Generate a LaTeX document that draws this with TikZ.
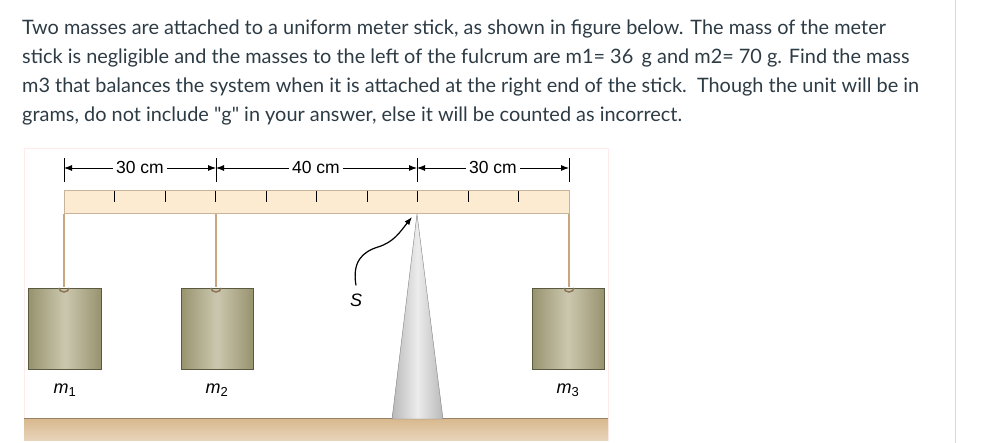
\documentclass[tikz,border=0pt]{standalone}
\usepackage{fontspec}
\setmainfont{Lato}
\newfontfamily\arial{Liberation Sans}
\usetikzlibrary{arrows.meta}
\definecolor{txt}{HTML}{2D3B45}
\definecolor{stick}{HTML}{FCEBD0}
\definecolor{stickd}{HTML}{C8B498}
\definecolor{massc}{HTML}{A9A37A}
\definecolor{massd}{HTML}{5A5A40}
\definecolor{rope}{HTML}{C9A77C}
\definecolor{ground}{HTML}{D9B98F}
\tikzset{
 qline/.style={anchor=base west, inner sep=0pt, text=txt, font=\fontsize{19.9bp}{22bp}\selectfont},
 massbox/.style={draw=massd, line width=1bp, left color=massc!90!black, right color=massc!90!black, middle color=massc!60!white, minimum width=72bp, minimum height=81bp, inner sep=0pt},
 dimlab/.style={fill=white, inner sep=3bp, font=\arial\fontsize{17.5bp}{19bp}\selectfont},
 mlab/.style={font=\arial\itshape\fontsize{18bp}{19bp}\selectfont, inner sep=0pt},
 dimarr/.style={-{Latex[length=8bp,width=6bp]}, line width=0.9bp},
}
\newcommand{\msub}[1]{\textsubscript{\normalfont\arial\fontsize{13bp}{14bp}\selectfont #1}}
\begin{document}
\begin{tikzpicture}[x=1bp,y=-1bp]
\useasboundingbox (0,0) rectangle (1008,443);
\draw[gray!30, line width=1bp] (955,0) -- (955,443);
\node[qline] (l1) at (22,35) {Two masses are attached to a uniform meter stick, as shown in figure below. The mass of the meter};
\node[qline] (l2) at (22,64) {stick is negligible and the masses to the left of the fulcrum are m1= 36\, g and m2= 70 g. Find the mass};
\node[qline] (l3) at (22,93) {m3 that balances the system when it is attached at the right end of the stick.\ \ Though the unit will be in};
\node[qline] (l4) at (22,122) {grams, do not include \textquotedbl g\textquotedbl\ in your answer, else it will be counted as incorrect.};
% figure frame
\draw[red!8, line width=1bp] (24,149) rectangle (608,441);
% ground
\fill[top color=ground, bottom color=ground!60!white] (24,419) rectangle (608,441);
\draw[ground!70!black, line width=1bp] (24,419) -- (608,419);
% fulcrum
\shade[left color=gray!55, right color=gray!55, middle color=gray!15, draw=gray] (417,214) -- (392,419) -- (443,419) -- cycle;
% strings
\foreach \x in {64,216,569} \draw[rope, line width=2bp] (\x,214) -- (\x,287);
% stick
\draw[stickd, fill=stick, line width=1bp] (64,191) rectangle (569,214);
\foreach \i in {1,...,9} \draw[line width=0.8bp] ({64+50.5*\i},191) -- ({64+50.5*\i},202);
% masses
\node[massbox, anchor=north] (m1) at (65,288) {};
\node[massbox, anchor=north] (m2) at (217,288) {};
\node[massbox, anchor=north] (m3) at (568,288) {};
\foreach \x in {64,216,569} \draw[rope!70!black, line width=1.5bp] (\x+5,288) arc (0:180:5 and 4);
\node[mlab] at (65,390) {m\msub{1}};
\node[mlab] at (217,390) {m\msub{2}};
\node[mlab] at (568,390) {m\msub{3}};
% dimension lines
\foreach \x in {64,216,417,569} \draw[line width=0.9bp] (\x,158) -- (\x,182);
\coordinate (d0) at (64,168); \coordinate (d1) at (216,168); \coordinate (d2) at (417,168); \coordinate (d3) at (569,168);
\node[dimlab] (t1) at (140,167) {30 cm};
\node[dimlab] (t2) at (316,167) {40 cm};
\node[dimlab] (t3) at (493,167) {30 cm};
\draw[dimarr] (t1.west |- d0) -- (d0); \draw[dimarr] (t1.east |- d0) -- (d1);
\draw[dimarr] (t2.west |- d0) -- (d1); \draw[dimarr] (t2.east |- d0) -- (d2);
\draw[dimarr] (t3.west |- d0) -- (d2); \draw[dimarr] (t3.east |- d0) -- (d3);
% S label
\node[mlab] (S) at (356,300) {S};
\draw[-{Latex[length=8bp,width=6bp]}, line width=1.2bp] (S.north) ++(0,-8) .. controls (352,262) and (362,252) .. (378,247) .. controls (394,242) and (400,232) .. (412,217);
\end{tikzpicture}
\end{document}
